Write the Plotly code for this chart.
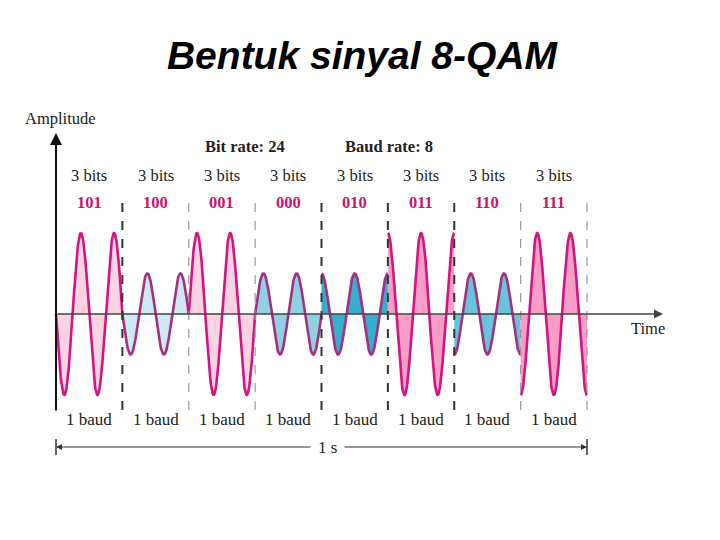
import numpy as np
import plotly.graph_objects as go

# 8-QAM: one baud per 3 bits, 8 bauds in 1 s
bit_codes = ['101', '100', '001', '000', '010', '011', '110', '111']
amplitudes = [2, 1, 2, 1, 1, 2, 1, 2]          # large = 2, small = 1
phases_deg = [180, 180, 0, 0, 90, 90, 270, 270]
fill_colors = ['#FDD3E4', '#CDE9F2', '#FDD3E4', '#90D0E3',
               '#36AFCF', '#F89DC7', '#68C4DD', '#F89DC7']
line_colors = ['#D4157F', '#A4307F', '#D4157F', '#A4307F',
               '#A4307F', '#D4157F', '#A4307F', '#D4157F']
dark_dividers = [1, 4, 5, 6]    # boundary index with the bold dashed line
cycles_per_baud = 2

# pixel calibration (page pixels; the page body adds an 8px offset)
X0, PX_PER_BAUD = 56, 66.375
Y0, PX_PER_AMP = 314, 40.5
PAGE_OFF = 8


def tx(px):
    return (px - X0) / PX_PER_BAUD


def ty(py):
    return (Y0 - py) / PX_PER_AMP


fig = go.Figure()

for i, (a, ph) in enumerate(zip(amplitudes, phases_deg)):
    t = np.linspace(i, i + 1, 200)
    y = a * np.sin(2 * np.pi * cycles_per_baud * (t - i) + np.radians(ph))
    fig.add_trace(go.Scatter(x=t, y=y, mode='lines', fill='tozeroy',
                             fillcolor=fill_colors[i],
                             line=dict(color=line_colors[i], width=2.6),
                             hoverinfo='skip', showlegend=False))

# dashed baud dividers
for k in range(1, len(bit_codes) + 1):
    dark = k in dark_dividers
    fig.add_shape(type='line', x0=k, x1=k, y0=ty(410), y1=ty(197),
                  line=dict(color='#333333' if dark else '#999999',
                            width=2 if dark else 1.2, dash='dash'))

# axes with arrows
fig.add_annotation(x=tx(663), y=0, ax=0, ay=0, axref='x', ayref='y',
                   xref='x', yref='y', showarrow=True, arrowhead=2,
                   arrowsize=1.2, arrowwidth=1.5, arrowcolor='#444444', text='')
fig.add_annotation(x=0, y=ty(133), ax=0, ay=ty(412), axref='x', ayref='y',
                   xref='x', yref='y', showarrow=True, arrowhead=2,
                   arrowsize=1.2, arrowwidth=2, arrowcolor='#111111', text='')

serif = 'Liberation Serif'
fs = 16.5
for i, code in enumerate(bit_codes):
    fig.add_annotation(x=i + 0.5, y=ty(175), text='3 bits', showarrow=False,
                       font=dict(family=serif, size=fs, color='#222222'))
    fig.add_annotation(x=i + 0.5, y=ty(202), text='<b>' + code + '</b>',
                       showarrow=False,
                       font=dict(family=serif, size=fs, color='#C8156E'))
    fig.add_annotation(x=i + 0.5, y=ty(419), text='1 baud', showarrow=False,
                       font=dict(family=serif, size=17, color='#222222'))

fig.add_annotation(x=tx(60), y=ty(118), text='Amplitude', showarrow=False,
                   xanchor='center', font=dict(family=serif, size=fs, color='#222222'))
fig.add_annotation(x=tx(245), y=ty(146), text='<b>Bit rate: 24</b>', showarrow=False,
                   font=dict(family=serif, size=fs, color='#222222'))
fig.add_annotation(x=tx(389), y=ty(146), text='<b>Baud rate: 8</b>', showarrow=False,
                   font=dict(family=serif, size=fs, color='#222222'))
fig.add_annotation(x=tx(648), y=ty(328), text='Time', showarrow=False,
                   font=dict(family=serif, size=fs, color='#222222'))

# 1 s span
fig.add_annotation(x=tx(327), y=ty(447), text='1 s', showarrow=False,
                   font=dict(family=serif, size=17, color='#222222'))
fig.add_annotation(x=0, y=ty(447), ax=tx(312), ay=ty(447), axref='x', ayref='y',
                   showarrow=True, arrowhead=2, arrowwidth=1.2,
                   arrowcolor='#333333', text='')
fig.add_annotation(x=len(bit_codes), y=ty(447), ax=tx(343), ay=ty(447),
                   axref='x', ayref='y', showarrow=True, arrowhead=2,
                   arrowwidth=1.2, arrowcolor='#333333', text='')
for k in [0, len(bit_codes)]:
    fig.add_shape(type='line', x0=k, x1=k, y0=ty(455), y1=ty(439),
                  line=dict(color='#333333', width=1.5))

fig.update_layout(
    width=720, height=540,
    margin=dict(l=0, r=0, t=0, b=0),
    paper_bgcolor='white', plot_bgcolor='white',
    title=dict(text='<b><i>Bentuk sinyal 8-QAM</i></b>',
               x=(362 - PAGE_OFF) / 720, y=1 - (55 - PAGE_OFF) / 540,
               xanchor='center', yanchor='middle',
               font=dict(family='Liberation Sans', size=39, color='black')),
    xaxis=dict(range=[tx(PAGE_OFF), tx(720 + PAGE_OFF)], visible=False, fixedrange=True),
    yaxis=dict(range=[ty(540 + PAGE_OFF), ty(PAGE_OFF)], visible=False, fixedrange=True),
)

fig.write_html("out.html")
